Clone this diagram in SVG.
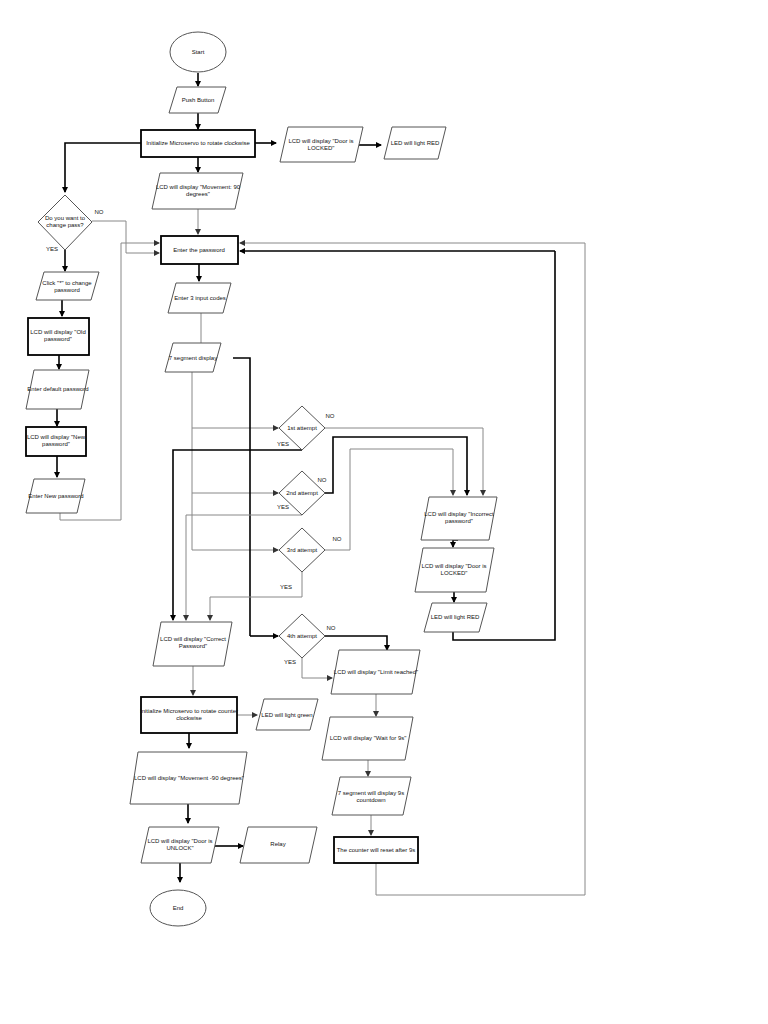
<svg xmlns="http://www.w3.org/2000/svg" width="768" height="1024" viewBox="0 0 768 1024">
<defs>
<marker id="a" markerWidth="6" markerHeight="6" refX="5" refY="3" orient="auto" markerUnits="userSpaceOnUse"><path d="M0,0 L6,3 L0,6 z" fill="#000"/></marker>
<marker id="g" markerWidth="6" markerHeight="6" refX="5" refY="3" orient="auto" markerUnits="userSpaceOnUse"><path d="M0,0 L6,3 L0,6 z" fill="#333"/></marker>
</defs>
<style>
text{font-family:"Liberation Sans",Arial,sans-serif;font-size:6px;text-anchor:middle;fill:#111}
.n{fill:#fff;stroke:#555;stroke-width:1}
.b{fill:#fff;stroke:#000;stroke-width:1.8}
.k{fill:none;stroke:#000;stroke-width:1.6;marker-end:url(#a)}
.t{fill:none;stroke:#888;stroke-width:1;marker-end:url(#g)}
.kn{fill:none;stroke:#000;stroke-width:1.6}
.tn{fill:none;stroke:#888;stroke-width:1}
</style>
<rect width="768" height="1024" fill="#fff"/>
<g id="connectors">
<path class="k" d="M198,73 V86"/>
<path class="k" d="M198,113 V129"/>
<path class="k" d="M255,143 H276"/>
<path class="k" d="M359,145 H381"/>
<path class="k" d="M198,157 V172"/>
<path class="t" d="M198,209 V234"/>
<path class="k" d="M141,143 H65 V192"/>
<path class="t" d="M92,221 H126 V253 H159"/>
<path class="k" d="M65,250 V271"/>
<path class="k" d="M62,300 V316"/>
<path class="k" d="M59,355 V369"/>
<path class="k" d="M57,409 V426"/>
<path class="k" d="M57,456 V477"/>
<path class="tn" d="M60,513 V520 H121 V243"/>
<path class="t" d="M121,243 H159"/>
<path class="k" d="M199,264 V281"/>
<path class="tn" d="M201,313 V343"/>
<path class="tn" d="M192,372 V550"/>
<path class="t" d="M192,428 H278"/>
<path class="t" d="M192,493 H278"/>
<path class="t" d="M192,550 H278"/>
<path class="kn" d="M233,358 H250 V636"/>
<path class="k" d="M250,636 H278"/>
<path class="t" d="M325,428 H483 V495"/>
<path class="k" d="M302,450 H173 V620"/>
<path class="k" d="M325,493 H333 V437 H467 V495"/>
<path class="t" d="M302,515 H186 V620"/>
<path class="t" d="M325,550 H350 V449 H453 V495"/>
<path class="t" d="M302,572 V597 H210 V620"/>
<path class="k" d="M458,540 H453 V547"/>
<path class="k" d="M454,592 V602"/>
<path class="kn" d="M453,632 V640 H555 V251"/>
<path class="k" d="M555,251 H240"/>
<path class="k" d="M325,636 H387 V650"/>
<path class="t" d="M302,658 V678 H332"/>
<path class="t" d="M376,694 V716"/>
<path class="t" d="M368,760 V776"/>
<path class="t" d="M371,815 V835"/>
<path class="tn" d="M376,863 V895 H585 V243"/>
<path class="t" d="M585,243 H240"/>
<path class="t" d="M193,666 V695"/>
<path class="t" d="M237,715 H257"/>
<path class="k" d="M189,733 V748"/>
<path class="k" d="M188,804 V823"/>
<path class="k" d="M215,846 H243"/>
<path class="k" d="M180,863 V882"/>
</g>
<g id="labels">
<text x="99" y="214">NO</text><text x="52" y="251">YES</text>
<text x="330" y="418">NO</text><text x="283" y="446">YES</text>
<text x="322" y="482">NO</text><text x="283" y="509">YES</text>
<text x="337" y="541">NO</text><text x="286" y="589">YES</text>
<text x="331" y="630">NO</text><text x="290" y="664">YES</text>
</g>
<g id="start"><ellipse class="n" cx="198" cy="52" rx="28" ry="20"/><text x="198" y="54">Start</text></g>
<g id="push"><polygon class="n" points="177,87 226,87 218,113 169,113"/><text x="198" y="102">Push Button</text></g>
<g id="init"><rect class="b" x="141" y="130" width="114" height="27"/><text x="198" y="145">Initialize Microservo to rotate clockwise</text></g>
<g id="lcdlocked1"><polygon class="n" points="288,127 363,127 355,162 280,162"/><text x="321" y="143">LCD will display "Door is</text><text x="321" y="150">LOCKED"</text></g>
<g id="ledred1"><polygon class="n" points="392,127 446,127 438,159 384,159"/><text x="415" y="145">LED will light RED</text></g>
<g id="lcdmov90"><polygon class="n" points="160,173 243,173 235,209 152,209"/><text x="198" y="189">LCD will display "Movement: 90</text><text x="198" y="196">degrees"</text></g>
<g id="change"><polygon class="n" points="65,195 92,222 65,250 38,222"/><text x="65" y="220">Do you want to</text><text x="65" y="227">change pass?</text></g>
<g id="enterpw"><rect class="b" x="161" y="236" width="77" height="28"/><text x="199" y="252">Enter the password</text></g>
<g id="click"><polygon class="n" points="44,272 99,272 91,300 36,300"/><text x="67" y="285">Click "*" to change</text><text x="67" y="292">password</text></g>
<g id="oldpw"><rect class="b" x="28" y="318" width="61" height="37"/><text x="58" y="334">LCD will display "Old</text><text x="58" y="341">password"</text></g>
<g id="defpw"><polygon class="n" points="34,370 89,370 81,409 26,409"/><text x="58" y="391">Enter default password</text></g>
<g id="newpw"><rect class="b" x="26" y="427" width="60" height="29"/><text x="56" y="439">LCD will display "New</text><text x="56" y="446">password"</text></g>
<g id="enternew"><polygon class="n" points="34,479 85,479 77,513 26,513"/><text x="56" y="498">Enter New password</text></g>
<g id="input3"><polygon class="n" points="176,283 231,283 223,313 168,313"/><text x="200" y="300">Enter 3 input codes</text></g>
<g id="seg7"><polygon class="n" points="173,343 221,343 213,372 165,372"/><text x="193" y="360">7 segment display</text></g>
<g id="att1"><polygon class="n" points="302,406 325,428 302,450 279,428"/><text x="302" y="430">1st attempt</text></g>
<g id="att2"><polygon class="n" points="302,471 325,493 302,515 279,493"/><text x="302" y="495">2nd attempt</text></g>
<g id="att3"><polygon class="n" points="302,528 325,550 302,572 279,550"/><text x="302" y="552">3rd attempt</text></g>
<g id="att4"><polygon class="n" points="302,614 325,636 302,658 279,636"/><text x="302" y="638">4th attempt</text></g>
<g id="incorrect"><polygon class="n" points="429,497 497,497 489,540 421,540"/><text x="459" y="516">LCD will display "Incorrect</text><text x="459" y="523">password"</text></g>
<g id="lcdlocked2"><polygon class="n" points="423,548 494,548 486,592 415,592"/><text x="454" y="568">LCD will display "Door is</text><text x="454" y="575">LOCKED"</text></g>
<g id="ledred2"><polygon class="n" points="432,603 487,603 479,632 424,632"/><text x="455" y="619">LED will light RED</text></g>
<g id="correct"><polygon class="n" points="161,622 232,622 224,666 153,666"/><text x="193" y="641">LCD will display "Correct</text><text x="193" y="648">Password"</text></g>
<g id="limit"><polygon class="n" points="339,650 420,650 412,694 331,694"/><text x="376" y="674">LCD will display "Limit reached"</text></g>
<g id="initccw"><rect class="b" x="141" y="697" width="96" height="36"/><text x="189" y="713">Initialize Microservo to rotate counter</text><text x="189" y="720">clockwise</text></g>
<g id="ledgreen"><polygon class="n" points="264,699 318,699 310,730 256,730"/><text x="287" y="717">LED will light green</text></g>
<g id="wait"><polygon class="n" points="330,717 413,717 405,760 322,760"/><text x="368" y="740">LCD will display "Wait for 9s"</text></g>
<g id="mov90n"><polygon class="n" points="138,752 247,752 239,804 130,804"/><text x="189" y="780">LCD will display "Movement  -90 degrees"</text></g>
<g id="countdown"><polygon class="n" points="340,777 411,777 403,815 332,815"/><text x="371" y="795">7 segment will display 9s</text><text x="371" y="802">countdown</text></g>
<g id="reset"><rect class="b" x="334" y="837" width="84" height="26"/><text x="376" y="852">The counter will reset after 9s</text></g>
<g id="unlock"><polygon class="n" points="149,827 219,827 211,863 141,863"/><text x="180" y="843">LCD will display "Door is</text><text x="180" y="850">UNLOCK"</text></g>
<g id="relay"><polygon class="n" points="248,827 317,827 309,863 240,863"/><text x="278" y="846">Relay</text></g>
<g id="end"><ellipse class="n" cx="178" cy="908" rx="28" ry="18"/><text x="178" y="910">End</text></g>
</svg>
